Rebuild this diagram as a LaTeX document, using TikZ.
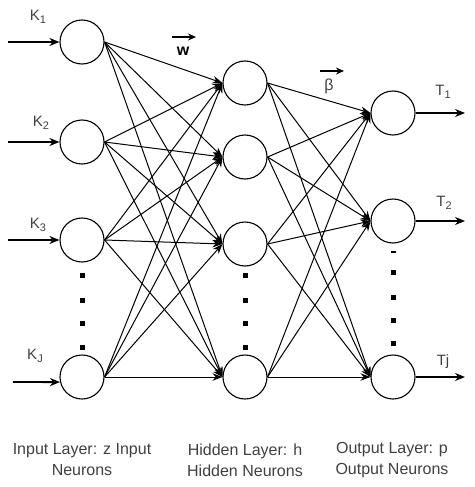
\documentclass[tikz,border=0pt]{standalone}
\usepackage{fontspec}
\setmainfont{Liberation Sans}
\usetikzlibrary{arrows.meta}
\definecolor{lbl}{rgb}{0.25,0.25,0.25}
\begin{document}
\begin{tikzpicture}[x=1pt,y=-1pt,
  neuron/.style={circle,draw,line width=1.1pt,minimum size=44pt,inner sep=0pt},
  conn/.style={line width=1pt,-{Stealth[length=10pt,width=7.5pt]}},
  inarrow/.style={line width=1.9pt,-{Stealth[length=10pt,width=8pt]}},
  outarrow/.style={line width=1.4pt,-{Stealth[length=10pt,width=8pt]}},
  vecarrow/.style={line width=1.3pt,-{Stealth[length=8pt,width=7pt]}},
  dotsq/.style={rectangle,fill=black,minimum size=5pt,inner sep=0pt},
  klabel/.style={text=lbl,font=\fontsize{15}{17}\selectfont,inner sep=0pt},
  layertext/.style={text=lbl,align=center,font=\fontsize{16}{21}\selectfont,inner sep=0pt}]
\useasboundingbox (0,0) rectangle (474,487);
% neurons
\node[neuron] (i1) at (82,42) {};
\node[neuron] (i2) at (82,142) {};
\node[neuron] (i3) at (82,240) {};
\node[neuron] (i4) at (82,377) {};
\node[neuron] (h1) at (245,83) {};
\node[neuron] (h2) at (245,157) {};
\node[neuron] (h3) at (245,244) {};
\node[neuron] (h4) at (245,377) {};
\node[neuron] (o1) at (393,113) {};
\node[neuron] (o2) at (393,221) {};
\node[neuron] (o3) at (393,377) {};
% connections
\foreach \i in {i1,i2,i3,i4}{
  \foreach \h in {h1,h2,h3,h4}{
    \draw[conn] (\i.east) -- (\h.west);
  }
}
\foreach \h in {h1,h2,h3,h4}{
  \foreach \o in {o1,o2,o3}{
    \draw[conn] (\h.east) -- (\o.west);
  }
}
% input arrows
\coordinate (a1) at (8,42);
\coordinate (a2) at (8,142);
\coordinate (a3) at (8,240);
\coordinate (a4) at (13,382);
\draw[inarrow] (a1) -- (i1.west);
\draw[inarrow] (a2) -- (i2.west);
\draw[inarrow] (a3) -- (i3.west);
\draw[inarrow] (a4) -- (i4.193);
% output arrows
\coordinate (b1) at (465,113);
\coordinate (b2) at (465,221);
\coordinate (b3) at (465,377);
\draw[outarrow] (o1.east) -- (b1);
\draw[outarrow] (o2.east) -- (b2);
\draw[outarrow] (o3.east) -- (b3);
% labels
\node[klabel] (k1) at (38,17) {K\raisebox{-0.45ex}{\fontsize{11}{12}\selectfont 1}};
\node[klabel] (k2) at (41,123) {K\raisebox{-0.45ex}{\fontsize{11}{12}\selectfont 2}};
\node[klabel] (k3) at (38,225) {K\raisebox{-0.45ex}{\fontsize{11}{12}\selectfont 3}};
\node[klabel] (kj) at (35,356) {K\raisebox{-0.45ex}{\fontsize{11}{12}\selectfont J}};
\node[klabel] (t1) at (443,92) {T\raisebox{-0.45ex}{\fontsize{11}{12}\selectfont 1}};
\node[klabel] (t2) at (444,203) {T\raisebox{-0.45ex}{\fontsize{11}{12}\selectfont 2}};
\node[klabel] (tj) at (443,362) {Tj};
% weight vectors
\coordinate (w1) at (172,37);
\coordinate (w2) at (196,37);
\draw[vecarrow] (w1) -- (w2);
\node[klabel,text=black,font=\fontsize{16}{18}\selectfont] (wl) at (183,51) {\textbf{w}};
\coordinate (be1) at (320,71);
\coordinate (be2) at (344,71);
\draw[vecarrow] (be1) -- (be2);
\node[klabel,font=\fontsize{16}{18}\selectfont] (bl) at (329,86) {β};
% dots
\foreach \y [count=\k] in {275,300,323,347}{
  \node[dotsq] (di\k) at (82,\y) {};
  \node[dotsq] (dh\k) at (245,\y) {};
}
\node[rectangle,fill=black,minimum width=5pt,minimum height=2pt,inner sep=0pt] (do0) at (393,252) {};
\foreach \y [count=\k] in {272,297,320,343}{
  \node[dotsq] (do\k) at (393,\y) {};
}
% layer texts
\node[layertext] (lin) at (82,460) {Input Layer: z Input\\Neurons};
\node[layertext] (lhid) at (245,460) {Hidden Layer: h\\Hidden Neurons};
\node[layertext] (lout) at (392,460) {Output Layer: p\\Output Neurons};
\end{tikzpicture}
\end{document}
